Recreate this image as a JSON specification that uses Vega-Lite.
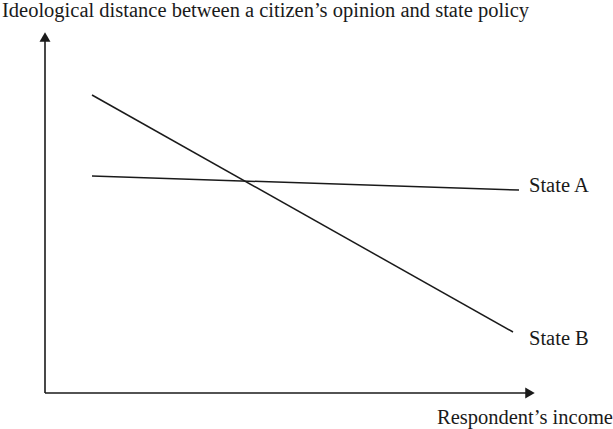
{
  "$schema": "https://vega.github.io/schema/vega-lite/v6.json",
  "autosize": {"type": "fit", "contains": "padding"},
  "width": 613,
  "height": 429,
  "padding": 0,
  "background": "white",
  "layer": [
    {
      "data": {
        "values": [
          {"series": "State A", "income": 47, "distance": 217},
          {"series": "State A", "income": 474, "distance": 203},
          {"series": "State B", "income": 47, "distance": 298},
          {"series": "State B", "income": 468, "distance": 61}
        ]
      },
      "mark": {"type": "line", "color": "#1a1a1a", "strokeWidth": 1.5},
      "encoding": {
        "x": {"field": "income", "type": "quantitative", "scale": {"domain": [-45, 568], "nice": false, "zero": false}, "axis": null},
        "y": {"field": "distance", "type": "quantitative", "scale": {"domain": [-36, 393], "nice": false, "zero": false}, "axis": null},
        "detail": {"field": "series"}
      }
    },
    {
      "data": {
        "values": [
          {"axis": "y", "x0": 0, "y0": 0, "x1": 0, "y1": 355},
          {"axis": "x", "x0": 0, "y0": 0, "x1": 485, "y1": 0}
        ]
      },
      "mark": {"type": "rule", "color": "#1a1a1a", "strokeWidth": 1.6},
      "encoding": {
        "x": {"field": "x0", "type": "quantitative", "scale": {"domain": [-45, 568], "nice": false, "zero": false}, "axis": null},
        "y": {"field": "y0", "type": "quantitative", "scale": {"domain": [-36, 393], "nice": false, "zero": false}, "axis": null},
        "x2": {"field": "x1"},
        "y2": {"field": "y1"}
      }
    },
    {
      "data": {
        "values": [
          {"axis": "y", "x": 0, "y": 356, "shape": "triangle-up"},
          {"axis": "x", "x": 485, "y": 0, "shape": "triangle-right"}
        ]
      },
      "mark": {"type": "point", "filled": true, "color": "#1a1a1a", "opacity": 1, "size": 120},
      "encoding": {
        "x": {"field": "x", "type": "quantitative", "scale": {"domain": [-45, 568], "nice": false, "zero": false}, "axis": null},
        "y": {"field": "y", "type": "quantitative", "scale": {"domain": [-36, 393], "nice": false, "zero": false}, "axis": null},
        "shape": {"field": "shape", "type": "nominal", "scale": null}
      }
    },
    {
      "data": {
        "values": [
          {"label": "State A", "x": 484, "y": 201},
          {"label": "State B", "x": 484, "y": 48},
          {"label": "Ideological distance between a citizen’s opinion and state policy", "x": -43, "y": 376},
          {"label": "Respondent’s income", "x": 392, "y": -31}
        ]
      },
      "mark": {"type": "text", "font": "Liberation Serif", "fontSize": 20.5, "color": "#1a1a1a", "align": "left", "baseline": "alphabetic"},
      "encoding": {
        "x": {"field": "x", "type": "quantitative", "scale": {"domain": [-45, 568], "nice": false, "zero": false}, "axis": null},
        "y": {"field": "y", "type": "quantitative", "scale": {"domain": [-36, 393], "nice": false, "zero": false}, "axis": null},
        "text": {"field": "label"}
      }
    }
  ],
  "config": {"view": {"stroke": null}}
}
